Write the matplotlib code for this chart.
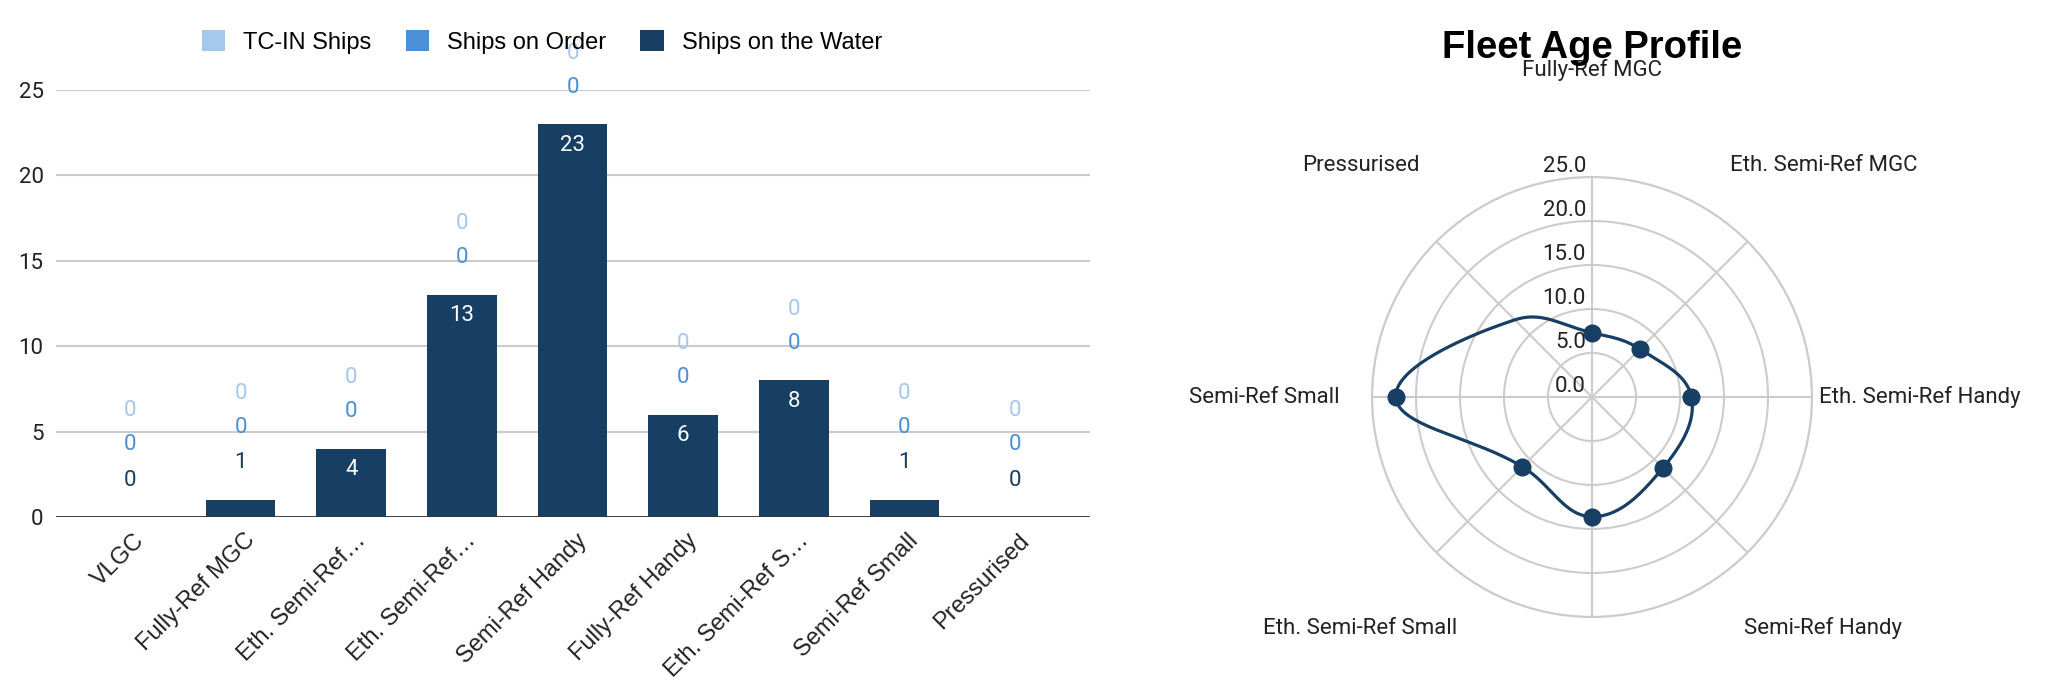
import numpy as np
import matplotlib.pyplot as plt
from matplotlib.transforms import offset_copy, ScaledTranslation
from matplotlib.font_manager import FontProperties

plt.rcParams['font.family'] = ['Roboto', 'DejaVu Sans']

# --- data ---------------------------------------------------------------
categories = ["VLGC", "Fully-Ref MGC", "Eth. Semi-Ref MGC", "Eth. Semi-Ref Handy",
              "Semi-Ref Handy", "Fully-Ref Handy", "Eth. Semi-Ref Small",
              "Semi-Ref Small", "Pressurised"]
tick_labels = ["VLGC", "Fully-Ref MGC", "Eth. Semi-Ref…", "Eth. Semi-Ref…",
               "Semi-Ref Handy", "Fully-Ref Handy", "Eth. Semi-Ref S…",
               "Semi-Ref Small", "Pressurised"]
ships_water = [0, 1, 4, 13, 23, 6, 8, 1, 0]
ships_order = [0, 0, 0, 0, 0, 0, 0, 0, 0]
tcin_ships = [0, 0, 0, 0, 0, 0, 0, 0, 0]

age_categories = ["Fully-Ref MGC", "Eth. Semi-Ref MGC", "Eth. Semi-Ref Handy",
                  "Semi-Ref Handy", "Fully-Ref Handy", "Eth. Semi-Ref Small",
                  "Semi-Ref Small", "Pressurised"]
fleet_age = [7.3, 7.7, 11.3, 11.4, 13.6, 11.2, 22.3, 12.4]
age_has_marker = [True, True, True, True, True, True, True, False]

DARK = "#173e63"
MID = "#4a90d9"
LIGHT = "#a4c8ee"
GRID = "#cccccc"

W, H = 2046, 696
fig = plt.figure(figsize=(W / 100, H / 100), dpi=100)


def px_rect(x0, y0, x1, y1):
    return [x0 / W, 1 - y1 / H, (x1 - x0) / W, (y1 - y0) / H]


# --- bar chart ----------------------------------------------------------
ax = fig.add_axes(px_rect(56, 90, 1090, 517))
x = np.arange(len(categories))
water = np.array(ships_water)
order = np.array(ships_order)
tcin = np.array(tcin_ships)

b_water = ax.bar(x, water, width=0.63, color=DARK, zorder=3)
b_order = ax.bar(x, order, bottom=water, width=0.63, color=MID, zorder=3)
b_tcin = ax.bar(x, tcin, bottom=water + order, width=0.63, color=LIGHT, zorder=3)

ax.set_xlim(-0.669, 8.678)
ax.set_ylim(0, 25)
ax.set_yticks(range(0, 26, 5))
ax.yaxis.grid(True, color=GRID, lw=1.5)
ax.set_axisbelow(True)
ax.axhline(0, color="#333333", lw=2, zorder=4)
for s in ax.spines.values():
    s.set_visible(False)
ax.tick_params(axis='y', length=0, pad=9, labelsize=16, labelcolor="#222222")
ax.set_xticks(x)
ax.set_xticklabels(tick_labels, rotation=45, ha='right', va='center',
                   rotation_mode='anchor', fontsize=17, color="#222222",
                   family='Liberation Sans')
ax.tick_params(axis='x', length=0, pad=16)
for lab in ax.get_xticklabels():
    lab.set_transform(lab.get_transform() + ScaledTranslation(11 / 100, 2 / 100, fig.dpi_scale_trans))

# value labels: inside the bar when it is tall enough, zero-series stacked above
for i in x:
    top = water[i]
    inside = top >= 3
    if inside:
        ax.annotate(str(water[i]), (i, top), xytext=(0, -21 * 0.72), textcoords='offset points',
                    ha='center', va='center', color='white', fontsize=16, zorder=5)
        k = 0
    else:
        ax.annotate(str(water[i]), (i, top), xytext=(0, 37 * 0.72), textcoords='offset points',
                    ha='center', va='center', color=DARK, fontsize=16, zorder=5)
        k = 1
    ax.annotate(str(order[i]), (i, top + order[i]), xytext=(0, (37 + 35 * k) * 0.72),
                textcoords='offset points', ha='center', va='center', color=MID,
                fontsize=16, zorder=5, annotation_clip=False)
    ax.annotate(str(tcin[i]), (i, top + order[i] + tcin[i]), xytext=(0, (71 + 35 * k) * 0.72),
                textcoords='offset points', ha='center', va='center', color=LIGHT,
                fontsize=16, zorder=5, annotation_clip=False)

fig.legend([b_tcin, b_order, b_water], ["TC-IN Ships", "Ships on Order", "Ships on the Water"],
           loc='center', bbox_to_anchor=(542 / W, 1 - 42 / H), ncol=3, frameon=False,
           prop=FontProperties(family='Liberation Sans', size=17),
           handlelength=1.0, handleheight=1.0, handletextpad=0.76, columnspacing=1.44)

# --- radar chart --------------------------------------------------------
rax = fig.add_axes(px_rect(1372, 177, 1812, 617), projection='polar')
rax.set_theta_zero_location('N')
rax.set_theta_direction(-1)
n = len(age_categories)
theta = np.arange(n) * 2 * np.pi / n
rax.set_xticks(theta)
rax.set_xticklabels([])
rax.set_ylim(0, 25)
rticks = [0, 5, 10, 15, 20, 25]
rax.set_yticks(rticks)
rax.set_yticklabels([])
rax.grid(color=GRID, lw=1.5)
rax.spines['polar'].set_color(GRID)
rax.spines['polar'].set_linewidth(1.5)
rax.tick_params(length=0)

rlab_tr = offset_copy(rax.transData, fig, x=-6, y=11, units='dots')
for r in rticks:
    rax.text(0, r, f"{r:.1f}", transform=rlab_tr, ha='right', va='center',
             fontsize=16, color="#222222")

for th, lab in zip(theta, age_categories):
    if np.cos(th) < -0.9:
        continue  # falls below the canvas, not shown in the original
    rax.text(th, 37.2, lab, ha='center', va='center', fontsize=16, color="#222222")


# smooth closed curve (bezier with tension, like chart.js)
def spline_closed(px, py, t=0.4, steps=40):
    m = len(px)
    cpp, cpn = [], []
    for i in range(m):
        x0, y0 = px[i - 1], py[i - 1]
        x1, y1 = px[i], py[i]
        x2, y2 = px[(i + 1) % m], py[(i + 1) % m]
        d01 = np.hypot(x1 - x0, y1 - y0)
        d12 = np.hypot(x2 - x1, y2 - y1)
        fa = t * d01 / (d01 + d12)
        fb = t * d12 / (d01 + d12)
        cpp.append((x1 - fa * (x2 - x0), y1 - fa * (y2 - y0)))
        cpn.append((x1 + fb * (x2 - x0), y1 + fb * (y2 - y0)))
    u = np.linspace(0, 1, steps)[:, None]
    out = []
    for i in range(m):
        j = (i + 1) % m
        P0 = np.array([px[i], py[i]])
        P1 = np.array(cpn[i])
        P2 = np.array(cpp[j])
        P3 = np.array([px[j], py[j]])
        seg = (1 - u) ** 3 * P0 + 3 * (1 - u) ** 2 * u * P1 + 3 * (1 - u) * u ** 2 * P2 + u ** 3 * P3
        out.append(seg)
    return np.vstack(out)


age = np.array(fleet_age)
cx = age * np.sin(theta)
cy = age * np.cos(theta)
curve = spline_closed(cx, cy, t=0.4)
c_th = np.arctan2(curve[:, 0], curve[:, 1])
c_r = np.hypot(curve[:, 0], curve[:, 1])
rax.plot(c_th, c_r, color=DARK, lw=2.3, zorder=4, clip_on=False)
mk = np.array(age_has_marker)
rax.plot(theta[mk], age[mk], 'o', color=DARK, ms=12, zorder=5, clip_on=False)

fig.text(1592 / W, 1 - 58 / H, "Fleet Age Profile", ha='center', va='baseline',
         fontsize=27.5, fontweight='bold', family='Liberation Sans')

fig.savefig("out.png", dpi=100, facecolor='white')
